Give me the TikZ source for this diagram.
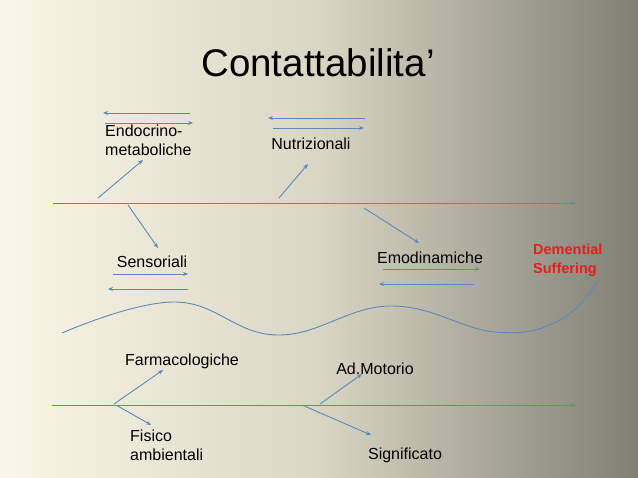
\documentclass[tikz,border=0pt]{standalone}
\usepackage{fontspec}
\setmainfont{Liberation Sans}
\usetikzlibrary{arrows.meta}
\definecolor{ln}{RGB}{95,135,190}
\definecolor{bgl}{RGB}{250,247,232}
\definecolor{bgm}{RGB}{218,214,196}
\definecolor{bgr}{RGB}{128,127,117}
\definecolor{dred}{RGB}{230,30,30}
\tikzset{
  ar/.style={ln, line width=0.9pt, -{Stealth[length=5pt,width=4pt]}},
  wl/.style={ln, line width=0.9pt},
  lbl/.style={font=\fontsize{16}{18.5}\selectfont, inner sep=0pt, align=left}
}
\begin{document}
\begin{tikzpicture}[x=1pt,y=-1pt]
\shade[left color=bgl, right color=bgr, middle color=bgm] (0,0) rectangle (638,478);
\useasboundingbox (0,0) rectangle (638,478);
\node[font=\fontsize{38.5}{42}\selectfont] (title) at (318,63) {Contattabilita’};
% main lines
\coordinate (m1s) at (53,203); \coordinate (m1e) at (576,203);
\draw[ar] (m1s) -- (m1e);
\coordinate (m2s) at (52,405); \coordinate (m2e) at (576,405);
\draw[ar] (m2s) -- (m2e);
% Endocrino
\node[lbl, anchor=north west] (endo) at (105,125) {Endocrino-\\metaboliche};
\coordinate (e1a) at (190,113); \coordinate (e1b) at (103,113);
\coordinate (e2a) at (105,123); \coordinate (e2b) at (193,123);
\draw[ar] (e1a) -- (e1b); \draw[ar] (e2a) -- (e2b);
\coordinate (ea) at (98,198); \coordinate (eb) at (143,160);
\draw[ar] (ea) -- (eb);
% Nutrizionali
\node[lbl] (nutr) at (311,144) {Nutrizionali};
\coordinate (n1a) at (365,118); \coordinate (n1b) at (268,118);
\coordinate (n2a) at (273,128); \coordinate (n2b) at (364,128);
\draw[ar] (n1a) -- (n1b); \draw[ar] (n2a) -- (n2b);
\coordinate (na) at (279,198); \coordinate (nb) at (308,164);
\draw[ar] (na) -- (nb);
% Sensoriali
\node[lbl] (sens) at (152,262) {Sensoriali};
\coordinate (sa) at (128,205); \coordinate (sb) at (158,248);
\draw[ar] (sa) -- (sb);
\coordinate (s1a) at (113,274); \coordinate (s1b) at (188,274);
\coordinate (s2a) at (188,289); \coordinate (s2b) at (108,289);
\draw[ar] (s1a) -- (s1b); \draw[ar] (s2a) -- (s2b);
% Emodinamiche
\node[lbl] (emo) at (430,258) {Emodinamiche};
\coordinate (ma) at (364,208); \coordinate (mb) at (419,243);
\draw[ar] (ma) -- (mb);
\coordinate (m1a) at (383,269); \coordinate (m1b) at (480,269);
\coordinate (m2a) at (474,284); \coordinate (m2b) at (379,284);
\draw[ar] (m1a) -- (m1b); \draw[ar] (m2a) -- (m2b);
% Demential
\node[lbl, anchor=north west, text=dred, font=\fontsize{14.5}{19}\selectfont\bfseries] (dem) at (533,244) {Demential\\Suffering};
% wave
\draw[wl] plot[smooth, tension=0.7] coordinates {(62,333) (175,302) (277,335) (390,306) (495,332) (560,320) (597,282)};
% Farmacologiche
\node[lbl] (farm) at (182,361) {Farmacologiche};
\coordinate (fa) at (114,404); \coordinate (fb) at (163,370);
\draw[ar] (fa) -- (fb);
\coordinate (fia) at (116,405); \coordinate (fib) at (151,425);
\draw[ar] (fia) -- (fib);
\node[lbl, anchor=north west] (fis) at (130,430) {Fisico\\ambientali};
% Ad.Motorio
\node[lbl] (ad) at (375,369) {Ad.Motorio};
\coordinate (aa) at (320,404); \coordinate (ab) at (362,374);
\draw[ar] (aa) -- (ab);
\coordinate (ga) at (302,405); \coordinate (gb) at (371,435);
\draw[ar] (ga) -- (gb);
\node[lbl] (sig) at (405,455) {Significato};
\end{tikzpicture}
\end{document}
